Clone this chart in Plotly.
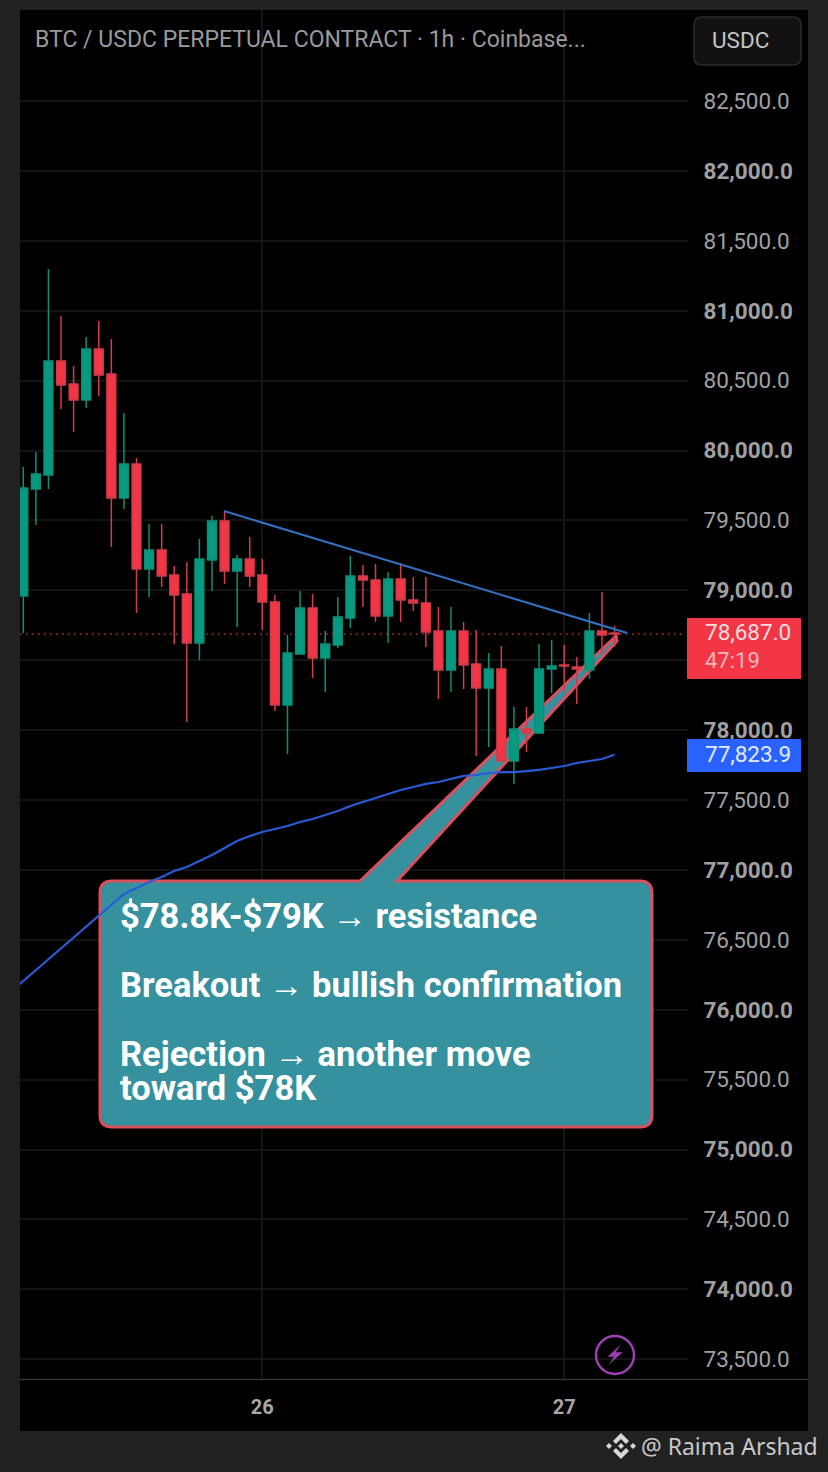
import plotly.graph_objects as go

W, H = 828, 1472

# --- DATA ---
hours = list(range(-19, 29))  # hours from the "26" gridline
opens = [78959, 79725, 79825, 80640, 80476, 80361, 80726, 80547, 79660, 79903, 79152, 79288,
         79109, 78974, 78623, 79217, 79496, 79138, 79224, 79109, 78916, 78180, 78544, 78873,
         78516, 78609, 78802, 79102, 79074, 78816, 79081, 78931, 78909, 78709, 78430, 78709,
         78473, 78301, 78437, 77779, 78008, 77979, 78437, 78466, 78451, 78430, 78709, 78695]
highs = [79882, 79989, 81298, 80962, 80604, 80812, 80926, 80798, 80268, 79946, 79474, 79474,
         79174, 79202, 79367, 79532, 79567, 79253, 79381, 79224, 78966, 78680, 78995, 78974,
         78709, 78952, 79245, 79181, 79188, 79131, 79195, 79095, 79095, 78881, 78881, 78773,
         78716, 78552, 78602, 78165, 78165, 78616, 78645, 78609, 78523, 78838, 78988, 78745]
lows = [78695, 79467, 79725, 80297, 80132, 80304, 80390, 79310, 79582, 78838, 78952, 79024,
        78616, 78058, 78501, 78995, 79045, 78738, 79024, 78716, 78137, 77829, 78544, 78373,
        78273, 78587, 78730, 78881, 78773, 78623, 78773, 78852, 78594, 78223, 78273, 78294,
        77815, 77879, 77779, 77615, 77843, 77979, 78265, 78265, 78187, 78366, 78552, 78594]
closes = [79732, 79832, 80640, 80469, 80361, 80726, 80540, 79660, 79903, 79152, 79288, 79102,
          78966, 78623, 79224, 79496, 79138, 79224, 79102, 78916, 78180, 78552, 78873, 78516,
          78616, 78809, 79102, 79074, 78816, 79081, 78931, 78909, 78702, 78430, 78709, 78466,
          78301, 78437, 77779, 78008, 77979, 78437, 78459, 78459, 78437, 78709, 78680, 78687]

ma_hours = list(range(-20, 29))
ma_values = [76127, 76205, 76277, 76356, 76434, 76513, 76592, 76670, 76749, 76828, 76871, 76914,
             76949, 76992, 77021, 77064, 77107, 77157, 77207, 77242, 77271, 77293, 77314, 77343,
             77364, 77393, 77421, 77457, 77486, 77514, 77543, 77572, 77593, 77615, 77629, 77650,
             77672, 77679, 77693, 77700, 77700, 77707, 77715, 77729, 77743, 77765, 77779, 77793, 77824]

trend_hours = [-3.04, 29]
trend_values = [79567, 78695]

price_ticks = list(range(73500, 83000, 500))
day_ticks = [0, 24]
day_labels = ["<b>26</b>", "<b>27</b>"]
last_price = 78687

TITLE = "BTC / USDC PERPETUAL CONTRACT · 1h · Coinbase..."
CALLOUT = ["$78.8K-$79K → resistance", "Breakout → bullish confirmation",
           "Rejection → another move", "toward $78K"]

# --- COLOURS ---
FRAME = "#212121"
RED = "#f23645"
GREEN = "#089981"
TEAL = "#36919f"
GRID = "#141414"


# pixel helpers, picture coordinates to data / paper
def hx(px):
    return (px - 262.3) / 12.58


def py(px):
    return 82500 - (px - 101) * 7.153


def pap(x, y):
    return f"{x / W:.5f} {1 - y / H:.5f}"


def dat(x, y):
    return f"{hx(x):.4f} {py(y):.2f}"


tick_text = [f"<b>{p:,.1f}</b>" if p % 1000 == 0 else f"{p:,.1f}" for p in price_ticks]

fig = go.Figure()

fig.add_trace(go.Candlestick(
    x=hours, open=opens, high=highs, low=lows, close=closes,
    increasing=dict(line=dict(color="#0c8f77", width=1.5), fillcolor=GREEN),
    decreasing=dict(line=dict(color="#d23b4a", width=1.5), fillcolor=RED),
    whiskerwidth=0, hoverinfo="skip",
))
fig.add_trace(go.Scatter(x=ma_hours, y=ma_values, mode="lines", hoverinfo="skip",
                         line=dict(color="#2a5bd7", width=2.2)))
fig.add_trace(go.Scatter(x=trend_hours, y=trend_values, mode="lines", hoverinfo="skip",
                         line=dict(color="#3272c4", width=2)))

# --- SHAPES ---
shapes = []

# black panel behind everything
shapes.append(dict(type="rect", xref="paper", yref="paper", layer="below",
                   x0=20 / W, x1=808 / W, y0=1 - 1431 / H, y1=1 - 10 / H,
                   fillcolor="#000000", line_width=0))

# callout box with its pointer, over the grid and under the candles
callout_path = ("M " + dat(112, 881) + " L " + dat(360, 881) + " L " + dat(616, 636) + " L " + dat(617, 641)
                + " L " + dat(397, 881) + " L " + dat(640, 881) + " Q " + dat(652, 881) + " " + dat(652, 893)
                + " L " + dat(652, 1115) + " Q " + dat(652, 1127) + " " + dat(640, 1127)
                + " L " + dat(112, 1127) + " Q " + dat(100, 1127) + " " + dat(100, 1115)
                + " L " + dat(100, 893) + " Q " + dat(100, 881) + " " + dat(112, 881) + " Z")
shapes.append(dict(type="path", xref="x", yref="y", layer="between", path=callout_path,
                   fillcolor=TEAL, line=dict(color="#d9505f", width=3)))

# last price dotted line
shapes.append(dict(type="line", xref="x", yref="y", layer="between",
                   x0=hx(20), x1=hx(686), y0=last_price, y1=last_price,
                   line=dict(color="#a83a44", width=1.5, dash="1.5px,4.5px")))

# bottom separator
shapes.append(dict(type="line", xref="paper", yref="paper", x0=20 / W, x1=808 / W,
                   y0=1 - 1379.5 / H, y1=1 - 1379.5 / H, line=dict(color="#333333", width=1.5)))

# USDC button
shapes.append(dict(type="path", xref="paper", yref="paper",
                   path="M " + pap(702, 17) + " L " + pap(793, 17) + " Q " + pap(801, 17) + " " + pap(801, 25)
                        + " L " + pap(801, 57) + " Q " + pap(801, 65) + " " + pap(793, 65)
                        + " L " + pap(702, 65) + " Q " + pap(694, 65) + " " + pap(694, 57)
                        + " L " + pap(694, 25) + " Q " + pap(694, 17) + " " + pap(702, 17) + " Z",
                   fillcolor="#121212", line=dict(color="#2b2b2b", width=1.5)))

# price flags
shapes.append(dict(type="rect", xref="paper", yref="paper", x0=687 / W, x1=801 / W,
                   y0=1 - 679 / H, y1=1 - 618 / H, fillcolor=RED, line_width=0))
shapes.append(dict(type="rect", xref="paper", yref="paper", x0=687 / W, x1=801 / W,
                   y0=1 - 772 / H, y1=1 - 739 / H, fillcolor="#2962ff", line_width=0))

# lightning badge
shapes.append(dict(type="circle", xref="paper", yref="paper", x0=596 / W, x1=634 / W,
                   y0=1 - 1374 / H, y1=1 - 1336 / H, line=dict(color="#9c3fb0", width=2.5)))
bolt = [(621, 1344.3), (607.7, 1356.7), (614.3, 1356.7), (608.3, 1365), (622.7, 1352.3), (615.7, 1352.3)]
shapes.append(dict(type="path", xref="paper", yref="paper", fillcolor="#9c3fb0", line_width=0,
                   path="M " + " L ".join(pap(x, y) for x, y in bolt) + " Z"))

# watermark logo, chevrons above and below, small diamonds at the sides and centre
logo_parts = [
    [(621, 1433), (629, 1441), (626, 1444), (621, 1439), (616, 1444), (613, 1441)],
    [(621, 1459), (629, 1451), (626, 1448), (621, 1453), (616, 1448), (613, 1451)],
    [(621, 1443), (624, 1446), (621, 1449), (618, 1446)],
    [(609, 1443), (612, 1446), (609, 1449), (606, 1446)],
    [(633, 1443), (636, 1446), (633, 1449), (630, 1446)],
]
for part in logo_parts:
    shapes.append(dict(type="path", xref="paper", yref="paper", fillcolor="#d8d8d8", line_width=0,
                       path="M " + " L ".join(pap(x, y) for x, y in part) + " Z"))


# --- TEXT ---
def label(x, y, text, size, color, family="Roboto", anchor="left"):
    return dict(xref="paper", yref="paper", x=x / W, y=1 - y / H, text=text, showarrow=False,
                xanchor=anchor, yanchor="middle", align=anchor,
                font=dict(family=family, size=size, color=color))


annotations = [
    label(33, 39, TITLE, 23, "#9a9a9a"),
    label(710, 40, "USDC", 22.5, "#c4c4c4"),
    label(703, 632, "78,687.0", 22.5, "#f7dfe1"),
    label(703, 660, "47:19", 22, "#f5b6bc"),
    label(703, 754, "77,823.9", 22.5, "#e3eaff"),
    label(639, 1446, "@ Raima Arshad", 23, "#c8c8c8", family="Noto Sans"),
]
for line_y, line in zip([916, 985, 1054, 1088], CALLOUT):
    annotations.append(label(117.5, line_y, f"<b>{line}</b>", 34.5, "#ffffff"))

fig.update_layout(
    width=W, height=H,
    margin=dict(l=0, r=0, t=0, b=0),
    paper_bgcolor=FRAME, plot_bgcolor="#000000",
    showlegend=False, hovermode=False, boxgap=0.3, boxgroupgap=0,
    font=dict(family="Roboto"),
    shapes=shapes, annotations=annotations,
    xaxis=dict(domain=[20 / W, 687.5 / W], range=[hx(20), hx(687.5)], rangeslider=dict(visible=False),
               tickvals=day_ticks, ticktext=day_labels, tickfont=dict(size=20, color="#a8a8a8"),
               showgrid=True, gridcolor=GRID, gridwidth=1.5, zeroline=False, showline=False,
               ticks="", ticklabelstandoff=14),
    yaxis=dict(domain=[1 - 1379 / H, 1 - 10 / H], range=[py(1379), py(10)], side="right",
               tickvals=price_ticks, ticktext=tick_text, tickfont=dict(size=22.5, color="#a0a0a0"),
               showgrid=True, gridcolor=GRID, gridwidth=1.5, zeroline=False, showline=False,
               ticks="", ticklabelstandoff=15),
)

# page has a default 8px body margin, drop it so the figure sits at 0,0
fig.write_html("out.html", config={"displayModeBar": False},
               post_script="document.body.style.margin='0';document.documentElement.style.background='#212121';")
